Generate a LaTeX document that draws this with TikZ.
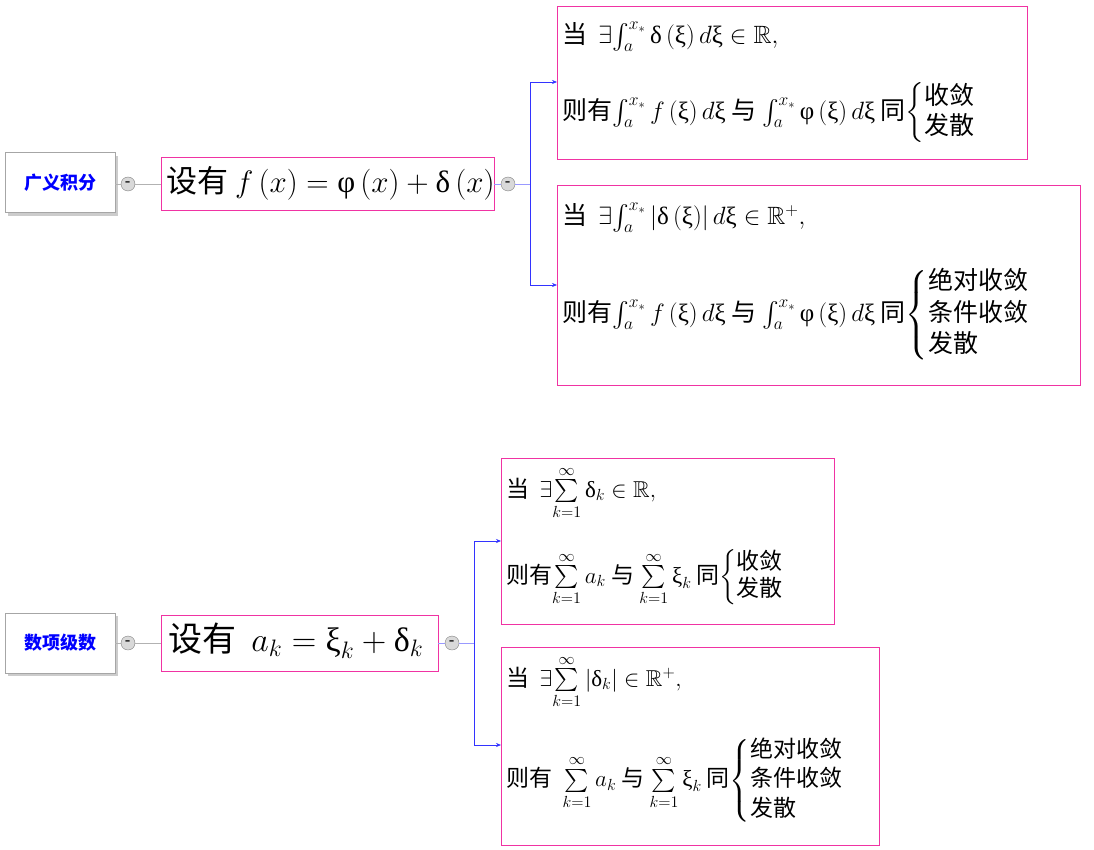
\documentclass[tikz,border=0pt]{standalone}
\usepackage{fix-cm}
\usepackage{amsmath,amssymb}
\usepackage{fontspec}
\newfontfamily\cjk{Noto Sans CJK SC}
\newfontfamily\gr{Liberation Serif}
\newcommand\gk[1]{\text{\gr #1}}
\newcommand\cj[1]{\text{\cjk #1}}
\usetikzlibrary{arrows.meta,shadows}
\begin{document}
\begin{tikzpicture}[x=1pt,y=-1pt,
  root/.style={draw=gray!70,fill=white,line width=1pt,drop shadow={shadow xshift=3pt,shadow yshift=-3pt,opacity=0.4}},
  rtxt/.style={font=\cjk\bfseries\fontsize{18}{20}\selectfont,text=blue},
  pbox/.style={draw=magenta!80,line width=0.6pt},
  tog/.style={circle,draw=gray,fill=gray!30,inner sep=0pt,minimum size=14pt,font=\bfseries\fontsize{14}{14}\selectfont},
  con/.style={draw=gray!60,line width=0.8pt},
  br/.style={draw=blue!80,line width=0.6pt,-{Stealth[length=5pt,width=4pt]}},
  txt/.style={anchor=west,inner sep=0pt,font=\fontsize{25}{28}\selectfont}]
\useasboundingbox (0,0) rectangle (1094,850);
% top
\draw[root] (5,153) rectangle (115,213);
\node[rtxt] (A) at (60,183) {广义积分};
\node[tog] (t1) at (128,184) {-};
\draw[pbox] (161,157) rectangle (494,210);
\node[txt,font=\fontsize{31}{34}\selectfont] (B) at (166,183) {\cjk 设有 $f\left(x\right)=\gk{φ}\left(x\right)+\gk{δ}\left(x\right)$};
\node[tog] (t2) at (508,184) {-};
\draw[con] (115,184) -- (t1) -- (161,184);
\draw[con,draw=blue!40] (494,184) -- (t2);
\coordinate (j1) at (530,184);
\draw[con,draw=blue!40] (t2) -- (j1);
\draw[br] (j1) -- (530,82) -- (557,82);
\draw[br] (j1) -- (530,285) -- (557,285);
\draw[pbox] (557,6) rectangle (1027,159);
\node[txt] (c1) at (562,37) {\cjk 当 \ $\exists\!\int_a^{x_*}\gk{δ}\left(\gk{ξ}\right)d\gk{ξ}\in\mathbb{R},$};
\node[txt] (c2) at (562,113) {\cjk 则有$\int_a^{x_*} f\left(\gk{ξ}\right)d\gk{ξ}$ 与 $\int_a^{x_*}\gk{φ}\left(\gk{ξ}\right)d\gk{ξ}$ 同$\left\{\begin{array}{@{}l@{}}\cj{收敛}\\\cj{发散}\end{array}\right.$};
\draw[pbox] (557,185) rectangle (1080,385);
\node[txt] (d1) at (562,218) {\cjk 当 \ $\exists\!\int_a^{x_*}\left|\gk{δ}\left(\gk{ξ}\right)\right|d\gk{ξ}\in\mathbb{R}^+,$};
\node[txt] (d2) at (562,315) {\cjk 则有$\int_a^{x_*} f\left(\gk{ξ}\right)d\gk{ξ}$ 与 $\int_a^{x_*}\gk{φ}\left(\gk{ξ}\right)d\gk{ξ}$ 同$\left\{\begin{array}{@{}l@{}}\cj{绝对收敛}\\[2pt]\cj{条件收敛}\\[2pt]\cj{发散}\end{array}\right.$};
% bottom
\draw[root] (5,613) rectangle (115,673);
\node[rtxt] (E) at (60,643) {数项级数};
\node[tog] (t3) at (128,643) {-};
\draw[pbox] (161,615) rectangle (438,671);
\node[txt,font=\fontsize{34}{36}\selectfont] (F) at (168,641) {\cjk 设有 \ $a_k=\gk{ξ}_k+\gk{δ}_k$};
\node[tog] (t4) at (452,643) {-};
\draw[con] (115,643) -- (t3) -- (161,643);
\draw[con,draw=blue!40] (438,643) -- (t4);
\coordinate (j2) at (474,643);
\draw[con,draw=blue!40] (t4) -- (j2);
\draw[br] (j2) -- (474,541) -- (501,541);
\draw[br] (j2) -- (474,745) -- (501,745);
\draw[pbox] (501,458) rectangle (834,624);
\node[txt,font=\fontsize{23}{26}\selectfont] (g1) at (506,493) {\cjk 当 \ $\exists\!\sum\limits_{k=1}^{\infty}\gk{δ}_k\in\mathbb{R},$};
\node[txt,font=\fontsize{23}{26}\selectfont] (g2) at (506,578) {\cjk 则有$\sum\limits_{k=1}^{\infty}a_k$ 与 $\sum\limits_{k=1}^{\infty}\gk{ξ}_k$ 同$\left\{\begin{array}{@{}l@{}}\cj{收敛}\\\cj{发散}\end{array}\right.$};
\draw[pbox] (501,647) rectangle (879,845);
\node[txt,font=\fontsize{23}{26}\selectfont] (h1) at (506,682) {\cjk 当 \ $\exists\!\sum\limits_{k=1}^{\infty}\left|\gk{δ}_k\right|\in\mathbb{R}^+,$};
\node[txt,font=\fontsize{23}{26}\selectfont] (h2) at (506,781) {\cjk 则有 \ $\sum\limits_{k=1}^{\infty}a_k$ 与 $\sum\limits_{k=1}^{\infty}\gk{ξ}_k$ 同$\left\{\begin{array}{@{}l@{}}\cj{绝对收敛}\\[2pt]\cj{条件收敛}\\[2pt]\cj{发散}\end{array}\right.$};
\end{tikzpicture}
\end{document}
